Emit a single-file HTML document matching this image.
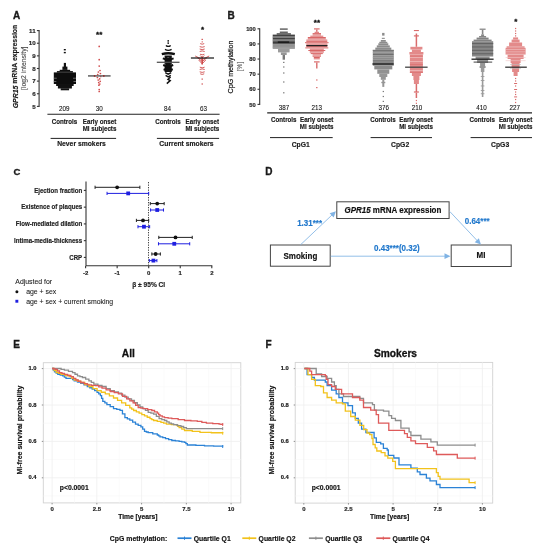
<!DOCTYPE html>
<html><head><meta charset="utf-8"><style>
html,body{margin:0;padding:0;background:#fff;width:550px;height:550px;overflow:hidden}
svg{display:block;filter:blur(0.35px)}
text{font-family:'Liberation Sans',sans-serif}
text[font-weight="bold"]{stroke:currentColor;stroke-width:0.15px}
text[font-weight="normal"]{stroke:currentColor;stroke-width:0.08px}
</style></head><body>
<svg width="550" height="550" viewBox="0 0 550 550">
<rect width="550" height="550" fill="#fff"/>
<text x="0" y="0" font-size="10" font-weight="bold" text-anchor="start" fill="#1a1a1a" color="#1a1a1a" transform="translate(13.00 18.60)" style="stroke-width:0.35px">A</text>
<text x="0" y="0" font-size="6.9" font-weight="bold" text-anchor="middle" fill="#1a1a1a" color="#1a1a1a" transform="translate(14.60 66.50) rotate(-90) scale(1.0 1.15)" style="" dominant-baseline="central"><tspan font-style="italic">GPR15</tspan> mRNA expression</text>
<text x="0" y="0" font-size="6.8" font-weight="normal" text-anchor="middle" fill="#444" color="#444" transform="translate(23.20 68.20) rotate(-90) scale(1.0 1.15)" style="" dominant-baseline="central">[log2 intensity]</text>
<line x1="39.1" y1="30.1" x2="39.1" y2="106.88" stroke="#333" stroke-width="1.1"/>
<line x1="36.9" y1="30.6" x2="39.1" y2="30.6" stroke="#333" stroke-width="1.1"/>
<text x="0" y="0" font-size="6.2" font-weight="bold" text-anchor="end" fill="#222" color="#222" transform="translate(35.60 32.80)" style="">11</text>
<line x1="36.9" y1="43.230000000000004" x2="39.1" y2="43.230000000000004" stroke="#333" stroke-width="1.1"/>
<text x="0" y="0" font-size="6.2" font-weight="bold" text-anchor="end" fill="#222" color="#222" transform="translate(35.60 45.43)" style="">10</text>
<line x1="36.9" y1="55.86" x2="39.1" y2="55.86" stroke="#333" stroke-width="1.1"/>
<text x="0" y="0" font-size="6.2" font-weight="bold" text-anchor="end" fill="#222" color="#222" transform="translate(35.60 58.06)" style="">9</text>
<line x1="36.9" y1="68.49000000000001" x2="39.1" y2="68.49000000000001" stroke="#333" stroke-width="1.1"/>
<text x="0" y="0" font-size="6.2" font-weight="bold" text-anchor="end" fill="#222" color="#222" transform="translate(35.60 70.69)" style="">8</text>
<line x1="36.9" y1="81.12" x2="39.1" y2="81.12" stroke="#333" stroke-width="1.1"/>
<text x="0" y="0" font-size="6.2" font-weight="bold" text-anchor="end" fill="#222" color="#222" transform="translate(35.60 83.32)" style="">7</text>
<line x1="36.9" y1="93.75" x2="39.1" y2="93.75" stroke="#333" stroke-width="1.1"/>
<text x="0" y="0" font-size="6.2" font-weight="bold" text-anchor="end" fill="#222" color="#222" transform="translate(35.60 95.95)" style="">6</text>
<line x1="36.9" y1="106.38" x2="39.1" y2="106.38" stroke="#333" stroke-width="1.1"/>
<text x="0" y="0" font-size="6.2" font-weight="bold" text-anchor="end" fill="#222" color="#222" transform="translate(35.60 108.58)" style="">5</text>
<rect x="63.80" y="62.90" width="2.20" height="4.10" fill="#111"/>
<rect x="62.40" y="66.60" width="5.00" height="3.30" fill="#111"/>
<rect x="59.70" y="69.80" width="10.40" height="1.40" fill="#0d0d0d"/>
<rect x="56.90" y="71.10" width="16.00" height="1.50" fill="#0d0d0d"/>
<rect x="53.80" y="72.40" width="22.20" height="11.60" fill="#0d0d0d"/>
<rect x="56.15" y="83.80" width="17.50" height="2.20" fill="#111"/>
<rect x="57.90" y="85.80" width="14.00" height="2.70" fill="#111"/>
<rect x="60.70" y="88.30" width="8.40" height="2.00" fill="#111"/>
<rect x="53.80" y="77.80" width="3.00" height="0.70" fill="#888"/>
<rect x="73.00" y="77.80" width="3.00" height="0.70" fill="#888"/>
<rect x="53.80" y="81.20" width="2.50" height="0.70" fill="#888"/>
<rect x="73.50" y="81.20" width="2.50" height="0.70" fill="#888"/>
<rect x="63.80" y="49.00" width="2.00" height="1.40" fill="#111"/>
<rect x="63.80" y="51.90" width="2.00" height="1.40" fill="#111"/>
<text x="0" y="0" font-size="8" font-weight="bold" text-anchor="middle" fill="#111" color="#111" transform="translate(99.20 37.20)" style="stroke-width:0.3px">**</text>
<circle cx="99.20" cy="46.40" r="0.85" fill="#d0494a"/>
<circle cx="99.20" cy="59.70" r="0.85" fill="#d0494a"/>
<circle cx="99.20" cy="66.10" r="0.85" fill="#d0494a"/>
<circle cx="100.00" cy="70.50" r="0.85" fill="#d0494a"/>
<circle cx="98.40" cy="72.00" r="0.85" fill="#d0494a"/>
<circle cx="100.40" cy="73.50" r="0.85" fill="#d0494a"/>
<circle cx="97.70" cy="74.50" r="0.85" fill="#d0494a"/>
<circle cx="100.70" cy="76.50" r="0.85" fill="#d0494a"/>
<circle cx="97.40" cy="77.50" r="0.85" fill="#d0494a"/>
<circle cx="99.70" cy="78.80" r="0.85" fill="#d0494a"/>
<circle cx="98.20" cy="80.00" r="0.85" fill="#d0494a"/>
<circle cx="100.20" cy="81.30" r="0.85" fill="#d0494a"/>
<circle cx="98.70" cy="82.60" r="0.85" fill="#d0494a"/>
<circle cx="99.80" cy="84.00" r="0.85" fill="#d0494a"/>
<circle cx="98.90" cy="85.20" r="0.85" fill="#d0494a"/>
<circle cx="99.20" cy="89.60" r="0.85" fill="#d0494a"/>
<circle cx="99.20" cy="91.50" r="0.85" fill="#d0494a"/>
<line x1="88.0" y1="75.9" x2="110.6" y2="75.9" stroke="#6b6b6b" stroke-width="1.6"/>
<circle cx="94.60" cy="75.90" r="0.9" fill="#9a2a2a"/>
<circle cx="103.80" cy="75.90" r="0.9" fill="#9a2a2a"/>
<rect x="167.55" y="40.00" width="1.30" height="1.20" fill="#111"/>
<rect x="167.55" y="41.40" width="1.30" height="1.20" fill="#111"/>
<rect x="167.55" y="42.80" width="1.30" height="1.20" fill="#111"/>
<path d="M165.90,45.40 Q168.30,47.40 170.70,45.40" fill="none" stroke="#111" stroke-width="1.3"/>
<path d="M165.00,49.40 Q168.30,51.40 171.60,49.40" fill="none" stroke="#111" stroke-width="1.4"/>
<path d="M161.80,54.20 Q168.30,52.40 174.80,54.20" fill="none" stroke="#111" stroke-width="2.4"/>
<rect x="164.60" y="55.50" width="7.20" height="16.50" fill="#111"/>
<path d="M162.80,58.40 L168.20,60.20 L173.60,58.40" fill="none" stroke="#111" stroke-width="2.0"/>
<path d="M163.20,65.00 L168.20,66.80 L173.20,65.00" fill="none" stroke="#111" stroke-width="2.2"/>
<path d="M163.60,69.20 L168.20,70.80 L172.80,69.20" fill="none" stroke="#111" stroke-width="2.0"/>
<rect x="167.20" y="57.20" width="2.00" height="0.60" fill="#777"/>
<rect x="164.60" y="63.80" width="1.20" height="0.60" fill="#888"/>
<rect x="170.60" y="63.80" width="1.20" height="0.60" fill="#888"/>
<path d="M165.20,72.60 L168.20,74.10 L171.20,72.60" fill="none" stroke="#111" stroke-width="1.6"/>
<path d="M165.60,75.40 L168.20,76.80 L170.80,75.40" fill="none" stroke="#111" stroke-width="1.5"/>
<path d="M170.6,77.0 L168.0,79.3 L170.2,80.6 L166.8,83.6" fill="none" stroke="#111" stroke-width="1.5"/>
<line x1="156.8" y1="62.3" x2="179.5" y2="62.3" stroke="#555" stroke-width="1.3"/>
<text x="0" y="0" font-size="8" font-weight="bold" text-anchor="middle" fill="#111" color="#111" transform="translate(202.50 32.20)" style="stroke-width:0.3px">*</text>
<rect x="201.55" y="38.80" width="1.30" height="1.20" fill="#cf4b4b"/>
<rect x="201.55" y="78.50" width="1.30" height="1.20" fill="#cf4b4b"/>
<rect x="201.55" y="83.40" width="1.30" height="1.20" fill="#cf4b4b"/>
<rect x="201.70" y="41.30" width="1.00" height="1.20" fill="#cf4b4b"/>
<path d="M200.20,43.60 Q202.20,44.80 204.20,43.60" fill="none" stroke="#cf4b4b" stroke-width="0.9"/>
<path d="M199.70,46.60 Q202.20,47.80 204.70,46.60" fill="none" stroke="#cf4b4b" stroke-width="0.9"/>
<path d="M199.70,49.00 Q202.20,50.20 204.70,49.00" fill="none" stroke="#cf4b4b" stroke-width="0.9"/>
<path d="M199.70,51.50 Q202.20,50.30 204.70,51.50" fill="none" stroke="#cf4b4b" stroke-width="0.9"/>
<path d="M200.00,54.20 Q202.20,55.40 204.40,54.20" fill="none" stroke="#cf4b4b" stroke-width="0.9"/>
<path d="M199.80,67.20 Q202.20,68.40 204.60,67.20" fill="none" stroke="#cf4b4b" stroke-width="0.9"/>
<path d="M199.70,69.50 Q202.20,68.30 204.70,69.50" fill="none" stroke="#cf4b4b" stroke-width="0.9"/>
<path d="M199.70,71.80 Q202.20,73.00 204.70,71.80" fill="none" stroke="#cf4b4b" stroke-width="0.9"/>
<path d="M200.20,73.80 Q202.20,75.00 204.20,73.80" fill="none" stroke="#cf4b4b" stroke-width="0.9"/>
<path d="M195.20,56.0 L202.20,59.5 L209.20,56.0 M197.20,57.5 L202.20,61.5 L207.20,57.5 M198.70,60.0 L202.20,63.8 L205.70,60.0 M200.20,55.5 L202.20,57.5 L204.20,55.5" fill="none" stroke="#cf4b4b" stroke-width="0.9"/>
<rect x="201.40" y="56.50" width="1.60" height="8.00" fill="#cf4b4b"/>
<line x1="190.9" y1="58.0" x2="214.0" y2="58.0" stroke="#222" stroke-width="1.3"/>
<text x="0" y="0" font-size="6.3" font-weight="normal" text-anchor="middle" fill="#111" color="#111" transform="translate(64.20 111.40) scale(1.0 1.15)" style="">209</text>
<text x="0" y="0" font-size="6.3" font-weight="normal" text-anchor="middle" fill="#111" color="#111" transform="translate(99.20 111.40) scale(1.0 1.15)" style="">30</text>
<text x="0" y="0" font-size="6.3" font-weight="normal" text-anchor="middle" fill="#111" color="#111" transform="translate(167.60 111.40) scale(1.0 1.15)" style="">84</text>
<text x="0" y="0" font-size="6.3" font-weight="normal" text-anchor="middle" fill="#111" color="#111" transform="translate(203.60 111.40) scale(1.0 1.15)" style="">63</text>
<line x1="47.4" y1="114.3" x2="219.6" y2="114.3" stroke="#222" stroke-width="1.1"/>
<text x="0" y="0" font-size="6.2" font-weight="bold" text-anchor="middle" fill="#1a1a1a" color="#1a1a1a" transform="translate(64.50 123.90) scale(1.0 1.15)" style="">Controls</text>
<text x="0" y="0" font-size="6.2" font-weight="bold" text-anchor="middle" fill="#1a1a1a" color="#1a1a1a" transform="translate(167.90 123.90) scale(1.0 1.15)" style="">Controls</text>
<text x="0" y="0" font-size="6.2" font-weight="bold" text-anchor="middle" fill="#1a1a1a" color="#1a1a1a" transform="translate(99.50 123.90) scale(1.0 1.15)" style="">Early onset</text>
<text x="0" y="0" font-size="6.2" font-weight="bold" text-anchor="middle" fill="#1a1a1a" color="#1a1a1a" transform="translate(99.50 130.60) scale(1.0 1.15)" style="">MI subjects</text>
<text x="0" y="0" font-size="6.2" font-weight="bold" text-anchor="middle" fill="#1a1a1a" color="#1a1a1a" transform="translate(202.30 123.90) scale(1.0 1.15)" style="">Early onset</text>
<text x="0" y="0" font-size="6.2" font-weight="bold" text-anchor="middle" fill="#1a1a1a" color="#1a1a1a" transform="translate(202.30 130.60) scale(1.0 1.15)" style="">MI subjects</text>
<line x1="50.6" y1="138.4" x2="116.1" y2="138.4" stroke="#222" stroke-width="1.0"/>
<line x1="156.9" y1="138.4" x2="219.1" y2="138.4" stroke="#222" stroke-width="1.0"/>
<text x="0" y="0" font-size="6.8" font-weight="bold" text-anchor="middle" fill="#1a1a1a" color="#1a1a1a" transform="translate(81.50 146.10) scale(1.0 1.15)" style="">Never smokers</text>
<text x="0" y="0" font-size="6.8" font-weight="bold" text-anchor="middle" fill="#1a1a1a" color="#1a1a1a" transform="translate(186.50 146.10) scale(1.0 1.15)" style="">Current smokers</text>
<text x="0" y="0" font-size="10" font-weight="bold" text-anchor="start" fill="#1a1a1a" color="#1a1a1a" transform="translate(227.40 18.60)" style="stroke-width:0.35px">B</text>
<text x="0" y="0" font-size="7.1" font-weight="normal" text-anchor="middle" fill="#111" color="#111" transform="translate(230.80 67.00) rotate(-90) scale(1.0 1.05)" style="stroke-width:0.2px" dominant-baseline="central">CpG methylation</text>
<text x="0" y="0" font-size="6.5" font-weight="normal" text-anchor="middle" fill="#555" color="#555" transform="translate(239.60 66.50) rotate(-90) scale(1.0 1.15)" style="" dominant-baseline="central">[%]</text>
<line x1="259.7" y1="28.3" x2="259.7" y2="104.89999999999999" stroke="#333" stroke-width="1.1"/>
<line x1="257.5" y1="28.8" x2="259.7" y2="28.8" stroke="#333" stroke-width="1.1"/>
<text x="0" y="0" font-size="5.8" font-weight="bold" text-anchor="end" fill="#222" color="#222" transform="translate(255.80 30.90)" style="">100</text>
<line x1="257.5" y1="43.92" x2="259.7" y2="43.92" stroke="#333" stroke-width="1.1"/>
<text x="0" y="0" font-size="5.8" font-weight="bold" text-anchor="end" fill="#222" color="#222" transform="translate(255.80 46.02)" style="">90</text>
<line x1="257.5" y1="59.04" x2="259.7" y2="59.04" stroke="#333" stroke-width="1.1"/>
<text x="0" y="0" font-size="5.8" font-weight="bold" text-anchor="end" fill="#222" color="#222" transform="translate(255.80 61.14)" style="">80</text>
<line x1="257.5" y1="74.16" x2="259.7" y2="74.16" stroke="#333" stroke-width="1.1"/>
<text x="0" y="0" font-size="5.8" font-weight="bold" text-anchor="end" fill="#222" color="#222" transform="translate(255.80 76.26)" style="">70</text>
<line x1="257.5" y1="89.28" x2="259.7" y2="89.28" stroke="#333" stroke-width="1.1"/>
<text x="0" y="0" font-size="5.8" font-weight="bold" text-anchor="end" fill="#222" color="#222" transform="translate(255.80 91.38)" style="">60</text>
<line x1="257.5" y1="104.39999999999999" x2="259.7" y2="104.39999999999999" stroke="#333" stroke-width="1.1"/>
<text x="0" y="0" font-size="5.8" font-weight="bold" text-anchor="end" fill="#222" color="#222" transform="translate(255.80 106.50)" style="">50</text>
<rect x="279.90" y="28.40" width="7.80" height="1.40" fill="#5a5a5a"/>
<rect x="279.80" y="31.50" width="8.00" height="1.70" fill="#646464"/>
<rect x="276.70" y="33.10" width="14.20" height="1.70" fill="#646464"/>
<rect x="272.70" y="34.60" width="22.20" height="1.90" fill="#414141"/>
<rect x="272.70" y="36.50" width="22.20" height="1.50" fill="#555555"/>
<rect x="272.70" y="38.00" width="22.20" height="1.60" fill="#414141"/>
<rect x="272.70" y="39.60" width="22.20" height="1.60" fill="#555555"/>
<rect x="272.70" y="41.20" width="22.20" height="1.80" fill="#3c3c3c"/>
<rect x="272.70" y="43.00" width="22.20" height="1.60" fill="#5a5a5a"/>
<rect x="272.70" y="44.60" width="22.20" height="4.20" fill="#8c8c8c"/>
<rect x="278.00" y="48.80" width="11.60" height="3.60" fill="#9b9b9b"/>
<rect x="280.90" y="52.40" width="5.80" height="2.60" fill="#969696"/>
<rect x="282.60" y="55.00" width="2.40" height="4.70" fill="#787878"/>
<rect x="272.70" y="37.00" width="22.20" height="0.50" fill="#aaaaaa"/>
<rect x="272.70" y="40.20" width="22.20" height="0.50" fill="#aaaaaa"/>
<rect x="272.70" y="45.80" width="22.20" height="0.50" fill="#aaaaaa"/>
<rect x="272.70" y="47.40" width="22.20" height="0.50" fill="#aaaaaa"/>
<line x1="277.8" y1="42.1" x2="289.1" y2="42.1" stroke="#111" stroke-width="1.3"/>
<rect x="283.20" y="61.80" width="1.20" height="1.20" fill="#646464"/>
<rect x="283.20" y="66.40" width="1.20" height="1.20" fill="#646464"/>
<rect x="283.20" y="72.40" width="1.20" height="1.20" fill="#646464"/>
<rect x="283.20" y="81.40" width="1.20" height="1.20" fill="#646464"/>
<rect x="283.20" y="92.20" width="1.20" height="1.20" fill="#646464"/>
<rect x="314.00" y="28.30" width="5.60" height="1.20" fill="#d96c6c"/>
<rect x="316.10" y="29.50" width="1.40" height="2.30" fill="#d96c6c"/>
<rect x="314.00" y="61.30" width="5.60" height="1.20" fill="#d96c6c"/>
<rect x="316.10" y="62.50" width="1.40" height="6.00" fill="#d96c6c"/>
<rect x="314.60" y="31.80" width="4.40" height="1.00" fill="#d96666"/>
<rect x="312.60" y="33.10" width="8.40" height="1.00" fill="#d96666"/>
<rect x="312.60" y="34.40" width="8.40" height="1.00" fill="#d96666"/>
<rect x="310.30" y="35.70" width="13.00" height="1.00" fill="#d96666"/>
<rect x="307.80" y="37.00" width="18.00" height="1.00" fill="#d96666"/>
<rect x="307.80" y="38.30" width="18.00" height="1.00" fill="#d96666"/>
<rect x="306.30" y="39.60" width="21.00" height="1.00" fill="#d96666"/>
<rect x="306.30" y="40.90" width="21.00" height="1.00" fill="#d96666"/>
<rect x="305.00" y="42.20" width="23.60" height="1.00" fill="#d96666"/>
<rect x="306.30" y="43.50" width="21.00" height="1.00" fill="#d96666"/>
<rect x="306.00" y="44.80" width="21.60" height="1.00" fill="#d96666"/>
<rect x="306.30" y="46.10" width="21.00" height="1.00" fill="#d96666"/>
<rect x="305.30" y="47.40" width="23.00" height="1.00" fill="#d96666"/>
<rect x="309.80" y="48.70" width="14.00" height="1.00" fill="#d96666"/>
<rect x="308.30" y="50.00" width="17.00" height="1.00" fill="#d96666"/>
<rect x="309.80" y="51.30" width="14.00" height="1.00" fill="#d96666"/>
<rect x="309.80" y="52.60" width="14.00" height="0.50" fill="#d96666"/>
<rect x="310.80" y="53.10" width="12.00" height="1.00" fill="#d96666"/>
<rect x="312.60" y="54.40" width="8.40" height="1.00" fill="#d96666"/>
<rect x="312.60" y="55.70" width="8.40" height="1.00" fill="#d96666"/>
<rect x="313.80" y="57.00" width="6.00" height="1.00" fill="#d96666"/>
<rect x="313.80" y="58.30" width="6.00" height="1.00" fill="#d96666"/>
<line x1="306.4" y1="45.6" x2="327.4" y2="45.6" stroke="#222" stroke-width="1.3"/>
<rect x="316.10" y="79.40" width="1.40" height="1.20" fill="#d96c6c"/>
<rect x="316.10" y="87.00" width="1.40" height="1.20" fill="#d96c6c"/>
<text x="0" y="0" font-size="8" font-weight="bold" text-anchor="middle" fill="#111" color="#111" transform="translate(316.90 25.30)" style="stroke-width:0.3px">**</text>
<rect x="382.10" y="32.90" width="2.40" height="2.70" fill="#8c8c8c"/>
<rect x="381.80" y="37.80" width="3.00" height="1.10" fill="#8c8c8c"/>
<rect x="380.80" y="40.00" width="5.00" height="1.80" fill="#8c8c8c"/>
<rect x="379.30" y="41.80" width="8.00" height="1.50" fill="#8c8c8c"/>
<rect x="378.30" y="43.30" width="10.00" height="2.10" fill="#8c8c8c"/>
<rect x="376.80" y="45.40" width="13.00" height="2.20" fill="#8c8c8c"/>
<rect x="375.30" y="47.60" width="16.00" height="2.20" fill="#8c8c8c"/>
<rect x="372.70" y="49.80" width="21.20" height="1.10" fill="#646464"/>
<rect x="372.80" y="50.90" width="21.00" height="3.10" fill="#8c8c8c"/>
<rect x="372.80" y="54.00" width="21.00" height="1.20" fill="#6e6e6e"/>
<rect x="372.80" y="55.20" width="21.00" height="4.30" fill="#8c8c8c"/>
<rect x="372.80" y="59.50" width="21.00" height="1.40" fill="#6e6e6e"/>
<rect x="372.80" y="60.90" width="21.00" height="2.10" fill="#878787"/>
<rect x="372.80" y="63.00" width="21.00" height="2.60" fill="#737373"/>
<rect x="374.30" y="65.60" width="18.00" height="3.80" fill="#8c8c8c"/>
<rect x="377.30" y="69.40" width="12.00" height="4.40" fill="#919191"/>
<rect x="379.30" y="73.80" width="8.00" height="3.20" fill="#969696"/>
<rect x="380.80" y="77.00" width="5.00" height="2.80" fill="#969696"/>
<rect x="382.30" y="79.80" width="2.00" height="7.10" fill="#969696"/>
<rect x="381.30" y="81.80" width="4.00" height="1.40" fill="#969696"/>
<rect x="372.80" y="52.20" width="21.00" height="0.50" fill="#afafaf"/>
<rect x="372.80" y="57.00" width="21.00" height="0.50" fill="#afafaf"/>
<line x1="372.4" y1="64.0" x2="393.6" y2="64.0" stroke="#222" stroke-width="1.3"/>
<rect x="382.70" y="90.90" width="1.20" height="1.20" fill="#6e6e6e"/>
<rect x="382.70" y="95.90" width="1.20" height="1.20" fill="#6e6e6e"/>
<rect x="382.70" y="100.80" width="1.20" height="1.20" fill="#6e6e6e"/>
<rect x="413.90" y="30.00" width="5.00" height="1.10" fill="#d96c6c"/>
<rect x="413.90" y="35.30" width="5.00" height="1.20" fill="#d96c6c"/>
<rect x="415.65" y="33.50" width="1.50" height="13.30" fill="#d96c6c"/>
<rect x="410.40" y="46.80" width="12.00" height="2.70" fill="#e38a8a"/>
<rect x="411.90" y="49.50" width="9.00" height="2.50" fill="#e38a8a"/>
<rect x="409.40" y="52.00" width="14.00" height="2.50" fill="#e38a8a"/>
<rect x="409.90" y="54.50" width="13.00" height="12.50" fill="#e38a8a"/>
<rect x="409.90" y="67.00" width="13.00" height="6.00" fill="#e38a8a"/>
<rect x="411.90" y="73.00" width="9.00" height="3.00" fill="#e38a8a"/>
<rect x="413.40" y="76.00" width="6.00" height="4.00" fill="#e38a8a"/>
<rect x="413.90" y="80.00" width="5.00" height="4.00" fill="#e38a8a"/>
<rect x="415.65" y="84.00" width="1.50" height="8.00" fill="#d96c6c"/>
<rect x="413.90" y="91.40" width="5.00" height="1.20" fill="#d96c6c"/>
<rect x="415.65" y="92.60" width="1.50" height="5.40" fill="#d96c6c"/>
<rect x="409.90" y="57.00" width="13.00" height="0.60" fill="#f3caca"/>
<rect x="409.90" y="61.00" width="13.00" height="0.60" fill="#f3caca"/>
<rect x="409.90" y="70.20" width="13.00" height="0.60" fill="#f3caca"/>
<rect x="409.90" y="55.80" width="13.00" height="0.60" fill="#d96c6c"/>
<rect x="409.90" y="64.00" width="13.00" height="0.60" fill="#d96c6c"/>
<rect x="409.90" y="72.00" width="13.00" height="0.60" fill="#d96c6c"/>
<line x1="405.1" y1="67.2" x2="427.6" y2="67.2" stroke="#444" stroke-width="1.3"/>
<rect x="415.80" y="99.90" width="1.20" height="1.20" fill="#d96c6c"/>
<rect x="415.80" y="102.70" width="1.20" height="1.20" fill="#d96c6c"/>
<rect x="479.60" y="28.60" width="6.00" height="1.20" fill="#7d7d7d"/>
<rect x="481.80" y="29.80" width="1.60" height="4.60" fill="#878787"/>
<rect x="481.10" y="34.40" width="3.00" height="1.60" fill="#878787"/>
<rect x="479.10" y="36.00" width="7.00" height="1.60" fill="#878787"/>
<rect x="476.60" y="37.60" width="12.00" height="2.00" fill="#828282"/>
<rect x="473.60" y="39.60" width="18.00" height="1.60" fill="#828282"/>
<rect x="472.00" y="41.20" width="21.20" height="15.30" fill="#878787"/>
<rect x="475.60" y="56.50" width="14.00" height="2.50" fill="#8c8c8c"/>
<rect x="477.10" y="59.00" width="11.00" height="4.00" fill="#919191"/>
<rect x="480.10" y="63.00" width="5.00" height="3.00" fill="#969696"/>
<rect x="479.60" y="66.00" width="6.00" height="2.00" fill="#969696"/>
<rect x="480.85" y="68.00" width="3.50" height="4.00" fill="#9b9b9b"/>
<rect x="481.80" y="72.00" width="1.60" height="25.00" fill="#9b9b9b"/>
<rect x="472.00" y="43.00" width="21.20" height="1.10" fill="#646464"/>
<rect x="472.00" y="46.40" width="21.20" height="1.10" fill="#646464"/>
<rect x="472.00" y="49.80" width="21.20" height="1.10" fill="#646464"/>
<rect x="472.00" y="53.20" width="21.20" height="1.10" fill="#646464"/>
<line x1="471.5" y1="59.2" x2="493.6" y2="59.2" stroke="#222" stroke-width="1.3"/>
<line x1="473.6" y1="62.1" x2="492.2" y2="62.1" stroke="#444" stroke-width="1.0"/>
<rect x="480.80" y="76.00" width="3.60" height="0.90" fill="#9b9b9b"/>
<rect x="480.80" y="80.00" width="3.60" height="0.90" fill="#9b9b9b"/>
<rect x="480.80" y="85.50" width="3.60" height="0.90" fill="#9b9b9b"/>
<rect x="480.80" y="90.00" width="3.60" height="0.90" fill="#9b9b9b"/>
<rect x="480.80" y="93.30" width="3.60" height="0.90" fill="#9b9b9b"/>
<rect x="515.00" y="27.90" width="1.20" height="1.20" fill="#d96c6c"/>
<rect x="515.00" y="30.40" width="1.20" height="1.20" fill="#d96c6c"/>
<rect x="515.00" y="32.90" width="1.20" height="1.20" fill="#d96c6c"/>
<rect x="515.00" y="35.30" width="1.20" height="1.20" fill="#d96c6c"/>
<rect x="513.10" y="37.40" width="5.00" height="2.20" fill="#e38a8a"/>
<rect x="511.60" y="39.60" width="8.00" height="2.90" fill="#e38a8a"/>
<rect x="509.10" y="42.50" width="13.00" height="3.80" fill="#e38a8a"/>
<rect x="506.60" y="46.30" width="18.00" height="1.50" fill="#e38a8a"/>
<rect x="505.60" y="47.80" width="20.00" height="6.70" fill="#e38a8a"/>
<rect x="507.60" y="54.50" width="16.00" height="4.50" fill="#e38a8a"/>
<rect x="510.60" y="59.00" width="10.00" height="4.00" fill="#e38a8a"/>
<rect x="511.60" y="63.00" width="8.00" height="4.00" fill="#e38a8a"/>
<rect x="512.10" y="67.00" width="7.00" height="5.00" fill="#e38a8a"/>
<rect x="513.60" y="72.00" width="4.00" height="4.00" fill="#e38a8a"/>
<rect x="505.60" y="49.20" width="20.00" height="0.60" fill="#f0c4c4"/>
<rect x="505.60" y="51.60" width="20.00" height="0.60" fill="#f0c4c4"/>
<rect x="505.60" y="53.80" width="20.00" height="0.60" fill="#f0c4c4"/>
<rect x="505.60" y="57.00" width="20.00" height="0.60" fill="#f0c4c4"/>
<rect x="505.60" y="60.50" width="20.00" height="0.60" fill="#f0c4c4"/>
<line x1="510" y1="64.5" x2="521" y2="64.5" stroke="#bbb" stroke-width="0.6"/>
<line x1="510" y1="68.6" x2="521" y2="68.6" stroke="#bbb" stroke-width="0.6"/>
<line x1="505.2" y1="67.2" x2="526.8" y2="67.2" stroke="#333" stroke-width="1.3"/>
<rect x="515.00" y="77.90" width="1.20" height="1.20" fill="#d96c6c"/>
<rect x="515.00" y="80.40" width="1.20" height="1.20" fill="#d96c6c"/>
<rect x="515.00" y="85.40" width="1.20" height="1.20" fill="#d96c6c"/>
<rect x="515.00" y="91.40" width="1.20" height="1.20" fill="#d96c6c"/>
<rect x="515.00" y="93.90" width="1.20" height="1.20" fill="#d96c6c"/>
<rect x="515.00" y="98.90" width="1.20" height="1.20" fill="#d96c6c"/>
<rect x="515.00" y="101.90" width="1.20" height="1.20" fill="#d96c6c"/>
<rect x="514.10" y="83.00" width="3.00" height="1.00" fill="#d96c6c"/>
<rect x="514.10" y="89.00" width="3.00" height="1.00" fill="#d96c6c"/>
<rect x="514.10" y="96.40" width="3.00" height="1.00" fill="#d96c6c"/>
<text x="0" y="0" font-size="8" font-weight="bold" text-anchor="middle" fill="#111" color="#111" transform="translate(515.80 24.30)" style="stroke-width:0.3px">*</text>
<text x="0" y="0" font-size="6.3" font-weight="normal" text-anchor="middle" fill="#111" color="#111" transform="translate(283.90 110.30) scale(1.0 1.15)" style="">387</text>
<text x="0" y="0" font-size="6.3" font-weight="normal" text-anchor="middle" fill="#111" color="#111" transform="translate(316.80 110.30) scale(1.0 1.15)" style="">213</text>
<text x="0" y="0" font-size="6.3" font-weight="normal" text-anchor="middle" fill="#111" color="#111" transform="translate(383.70 110.30) scale(1.0 1.15)" style="">376</text>
<text x="0" y="0" font-size="6.3" font-weight="normal" text-anchor="middle" fill="#111" color="#111" transform="translate(417.00 110.30) scale(1.0 1.15)" style="">210</text>
<text x="0" y="0" font-size="6.3" font-weight="normal" text-anchor="middle" fill="#111" color="#111" transform="translate(481.60 110.30) scale(1.0 1.15)" style="">410</text>
<text x="0" y="0" font-size="6.3" font-weight="normal" text-anchor="middle" fill="#111" color="#111" transform="translate(514.80 110.30) scale(1.0 1.15)" style="">227</text>
<line x1="267.2" y1="112.9" x2="532.0" y2="112.9" stroke="#222" stroke-width="1.1"/>
<text x="0" y="0" font-size="6.2" font-weight="bold" text-anchor="middle" fill="#1a1a1a" color="#1a1a1a" transform="translate(283.80 122.20) scale(1.0 1.15)" style="">Controls</text>
<text x="0" y="0" font-size="6.2" font-weight="bold" text-anchor="middle" fill="#1a1a1a" color="#1a1a1a" transform="translate(382.90 122.20) scale(1.0 1.15)" style="">Controls</text>
<text x="0" y="0" font-size="6.2" font-weight="bold" text-anchor="middle" fill="#1a1a1a" color="#1a1a1a" transform="translate(482.30 122.20) scale(1.0 1.15)" style="">Controls</text>
<text x="0" y="0" font-size="6.2" font-weight="bold" text-anchor="middle" fill="#1a1a1a" color="#1a1a1a" transform="translate(316.70 122.20) scale(1.0 1.15)" style="">Early onset</text>
<text x="0" y="0" font-size="6.2" font-weight="bold" text-anchor="middle" fill="#1a1a1a" color="#1a1a1a" transform="translate(316.70 128.70) scale(1.0 1.15)" style="">MI subjects</text>
<text x="0" y="0" font-size="6.2" font-weight="bold" text-anchor="middle" fill="#1a1a1a" color="#1a1a1a" transform="translate(416.00 122.20) scale(1.0 1.15)" style="">Early onset</text>
<text x="0" y="0" font-size="6.2" font-weight="bold" text-anchor="middle" fill="#1a1a1a" color="#1a1a1a" transform="translate(416.00 128.70) scale(1.0 1.15)" style="">MI subjects</text>
<text x="0" y="0" font-size="6.2" font-weight="bold" text-anchor="middle" fill="#1a1a1a" color="#1a1a1a" transform="translate(515.60 122.20) scale(1.0 1.15)" style="">Early onset</text>
<text x="0" y="0" font-size="6.2" font-weight="bold" text-anchor="middle" fill="#1a1a1a" color="#1a1a1a" transform="translate(515.60 128.70) scale(1.0 1.15)" style="">MI subjects</text>
<line x1="270.0" y1="137.6" x2="332.7" y2="137.6" stroke="#222" stroke-width="1.0"/>
<text x="0" y="0" font-size="6.8" font-weight="bold" text-anchor="middle" fill="#1a1a1a" color="#1a1a1a" transform="translate(300.70 146.60) scale(1.0 1.15)" style="">CpG1</text>
<line x1="370.6" y1="137.6" x2="432.0" y2="137.6" stroke="#222" stroke-width="1.0"/>
<text x="0" y="0" font-size="6.8" font-weight="bold" text-anchor="middle" fill="#1a1a1a" color="#1a1a1a" transform="translate(400.10 146.60) scale(1.0 1.15)" style="">CpG2</text>
<line x1="470.6" y1="137.6" x2="532.0" y2="137.6" stroke="#222" stroke-width="1.0"/>
<text x="0" y="0" font-size="6.8" font-weight="bold" text-anchor="middle" fill="#1a1a1a" color="#1a1a1a" transform="translate(500.10 146.60) scale(1.0 1.15)" style="">CpG3</text>
<text x="0" y="0" font-size="9.5" font-weight="bold" text-anchor="start" fill="#1a1a1a" color="#1a1a1a" transform="translate(13.40 175.20)" style="stroke-width:0.35px">C</text>
<line x1="86.0" y1="181.6" x2="86.0" y2="265.8" stroke="#333" stroke-width="1.1"/>
<line x1="86.0" y1="265.8" x2="212.3" y2="265.8" stroke="#333" stroke-width="1.1"/>
<line x1="85.6" y1="265.8" x2="85.6" y2="268.2" stroke="#333" stroke-width="1.1"/>
<text x="0" y="0" font-size="6.0" font-weight="bold" text-anchor="middle" fill="#222" color="#222" transform="translate(85.60 275.10)" style="">-2</text>
<line x1="117.14999999999999" y1="265.8" x2="117.14999999999999" y2="268.2" stroke="#333" stroke-width="1.1"/>
<text x="0" y="0" font-size="6.0" font-weight="bold" text-anchor="middle" fill="#222" color="#222" transform="translate(117.15 275.10)" style="">-1</text>
<line x1="148.7" y1="265.8" x2="148.7" y2="268.2" stroke="#333" stroke-width="1.1"/>
<text x="0" y="0" font-size="6.0" font-weight="bold" text-anchor="middle" fill="#222" color="#222" transform="translate(148.70 275.10)" style="">0</text>
<line x1="180.25" y1="265.8" x2="180.25" y2="268.2" stroke="#333" stroke-width="1.1"/>
<text x="0" y="0" font-size="6.0" font-weight="bold" text-anchor="middle" fill="#222" color="#222" transform="translate(180.25 275.10)" style="">1</text>
<line x1="211.79999999999998" y1="265.8" x2="211.79999999999998" y2="268.2" stroke="#333" stroke-width="1.1"/>
<text x="0" y="0" font-size="6.0" font-weight="bold" text-anchor="middle" fill="#222" color="#222" transform="translate(211.80 275.10)" style="">2</text>
<line x1="83.8" y1="190.4" x2="86.0" y2="190.4" stroke="#333" stroke-width="1.1"/>
<text x="0" y="0" font-size="6.15" font-weight="bold" text-anchor="end" fill="#222" color="#222" transform="translate(82.20 192.60) scale(1.0 1.15)" style="">Ejection fraction</text>
<line x1="83.8" y1="207.15" x2="86.0" y2="207.15" stroke="#333" stroke-width="1.1"/>
<text x="0" y="0" font-size="6.15" font-weight="bold" text-anchor="end" fill="#222" color="#222" transform="translate(82.20 209.35) scale(1.0 1.15)" style="">Existence of plaques</text>
<line x1="83.8" y1="223.9" x2="86.0" y2="223.9" stroke="#333" stroke-width="1.1"/>
<text x="0" y="0" font-size="6.15" font-weight="bold" text-anchor="end" fill="#222" color="#222" transform="translate(82.20 226.10) scale(1.0 1.15)" style="">Flow-mediated dilation</text>
<line x1="83.8" y1="240.65" x2="86.0" y2="240.65" stroke="#333" stroke-width="1.1"/>
<text x="0" y="0" font-size="6.15" font-weight="bold" text-anchor="end" fill="#222" color="#222" transform="translate(82.20 242.85) scale(1.0 1.15)" style="">Intima-media-thickness</text>
<line x1="83.8" y1="257.4" x2="86.0" y2="257.4" stroke="#333" stroke-width="1.1"/>
<text x="0" y="0" font-size="6.15" font-weight="bold" text-anchor="end" fill="#222" color="#222" transform="translate(82.20 259.60) scale(1.0 1.15)" style="">CRP</text>
<line x1="148.5" y1="182" x2="148.5" y2="265.5" stroke="#444" stroke-width="1" stroke-dasharray="1.3,1.2"/>
<line x1="95.065" y1="187.3" x2="139.86599999999999" y2="187.3" stroke="#222" stroke-width="1.0"/>
<line x1="95.065" y1="185.70000000000002" x2="95.065" y2="188.9" stroke="#222" stroke-width="1.0"/>
<line x1="139.86599999999999" y1="185.70000000000002" x2="139.86599999999999" y2="188.9" stroke="#222" stroke-width="1.0"/>
<circle cx="117.15" cy="187.30" r="1.9" fill="#111"/>
<line x1="107.05399999999999" y1="193.4" x2="148.7" y2="193.4" stroke="#1f1fe0" stroke-width="1.0"/>
<line x1="107.05399999999999" y1="191.8" x2="107.05399999999999" y2="195.0" stroke="#1f1fe0" stroke-width="1.0"/>
<line x1="148.7" y1="191.8" x2="148.7" y2="195.0" stroke="#1f1fe0" stroke-width="1.0"/>
<rect x="126.29" y="191.50" width="3.80" height="3.80" fill="#1f1fe0"/>
<line x1="150.27749999999997" y1="203.6" x2="164.15949999999998" y2="203.6" stroke="#222" stroke-width="1.0"/>
<line x1="150.27749999999997" y1="202.0" x2="150.27749999999997" y2="205.2" stroke="#222" stroke-width="1.0"/>
<line x1="164.15949999999998" y1="202.0" x2="164.15949999999998" y2="205.2" stroke="#222" stroke-width="1.0"/>
<circle cx="157.22" cy="203.60" r="1.9" fill="#111"/>
<line x1="150.593" y1="210.0" x2="163.52849999999998" y2="210.0" stroke="#1f1fe0" stroke-width="1.0"/>
<line x1="150.593" y1="208.4" x2="150.593" y2="211.6" stroke="#1f1fe0" stroke-width="1.0"/>
<line x1="163.52849999999998" y1="208.4" x2="163.52849999999998" y2="211.6" stroke="#1f1fe0" stroke-width="1.0"/>
<rect x="155.32" y="208.10" width="3.80" height="3.80" fill="#1f1fe0"/>
<line x1="136.3955" y1="220.4" x2="148.7" y2="220.4" stroke="#222" stroke-width="1.0"/>
<line x1="136.3955" y1="218.8" x2="136.3955" y2="222.0" stroke="#222" stroke-width="1.0"/>
<line x1="148.7" y1="218.8" x2="148.7" y2="222.0" stroke="#222" stroke-width="1.0"/>
<circle cx="143.02" cy="220.40" r="1.9" fill="#111"/>
<line x1="137.97299999999998" y1="226.7" x2="149.64649999999997" y2="226.7" stroke="#1f1fe0" stroke-width="1.0"/>
<line x1="137.97299999999998" y1="225.1" x2="137.97299999999998" y2="228.29999999999998" stroke="#1f1fe0" stroke-width="1.0"/>
<line x1="149.64649999999997" y1="225.1" x2="149.64649999999997" y2="228.29999999999998" stroke="#1f1fe0" stroke-width="1.0"/>
<rect x="142.07" y="224.80" width="3.80" height="3.80" fill="#1f1fe0"/>
<line x1="158.796" y1="237.4" x2="192.23899999999998" y2="237.4" stroke="#222" stroke-width="1.0"/>
<line x1="158.796" y1="235.8" x2="158.796" y2="239.0" stroke="#222" stroke-width="1.0"/>
<line x1="192.23899999999998" y1="235.8" x2="192.23899999999998" y2="239.0" stroke="#222" stroke-width="1.0"/>
<circle cx="175.52" cy="237.40" r="1.9" fill="#111"/>
<line x1="158.48049999999998" y1="243.8" x2="189.71499999999997" y2="243.8" stroke="#1f1fe0" stroke-width="1.0"/>
<line x1="158.48049999999998" y1="242.20000000000002" x2="158.48049999999998" y2="245.4" stroke="#1f1fe0" stroke-width="1.0"/>
<line x1="189.71499999999997" y1="242.20000000000002" x2="189.71499999999997" y2="245.4" stroke="#1f1fe0" stroke-width="1.0"/>
<rect x="172.36" y="241.90" width="3.80" height="3.80" fill="#1f1fe0"/>
<line x1="151.855" y1="254.0" x2="160.37349999999998" y2="254.0" stroke="#222" stroke-width="1.0"/>
<line x1="151.855" y1="252.4" x2="151.855" y2="255.6" stroke="#222" stroke-width="1.0"/>
<line x1="160.37349999999998" y1="252.4" x2="160.37349999999998" y2="255.6" stroke="#222" stroke-width="1.0"/>
<circle cx="155.64" cy="254.00" r="1.9" fill="#111"/>
<line x1="149.331" y1="260.6" x2="156.903" y2="260.6" stroke="#1f1fe0" stroke-width="1.0"/>
<line x1="149.331" y1="259.0" x2="149.331" y2="262.20000000000005" stroke="#1f1fe0" stroke-width="1.0"/>
<line x1="156.903" y1="259.0" x2="156.903" y2="262.20000000000005" stroke="#1f1fe0" stroke-width="1.0"/>
<rect x="151.53" y="258.70" width="3.80" height="3.80" fill="#1f1fe0"/>
<text x="0" y="0" font-size="6.6" font-weight="bold" text-anchor="middle" fill="#222" color="#222" transform="translate(148.70 287.40) scale(1.0 1.15)" style="">β ± 95% CI</text>
<text x="0" y="0" font-size="6.9" font-weight="normal" text-anchor="start" fill="#222" color="#222" transform="translate(15.30 284.00) scale(1.0 1.15)" style="">Adjusted for</text>
<circle cx="16.90" cy="291.80" r="1.5" fill="#111"/>
<text x="0" y="0" font-size="6.9" font-weight="normal" text-anchor="start" fill="#222" color="#222" transform="translate(26.20 294.20) scale(1.0 1.15)" style="">age + sex</text>
<rect x="15.40" y="299.80" width="2.90" height="2.90" fill="#1f1fe0"/>
<text x="0" y="0" font-size="6.9" font-weight="normal" text-anchor="start" fill="#222" color="#222" transform="translate(26.20 303.60) scale(1.0 1.15)" style="">age + sex + current smoking</text>
<text x="0" y="0" font-size="10.0" font-weight="bold" text-anchor="start" fill="#1a1a1a" color="#1a1a1a" transform="translate(265.30 175.20)" style="stroke-width:0.35px">D</text>
<rect x="270.4" y="245.0" width="59.8" height="21.2" fill="#fff" stroke="#444" stroke-width="1"/>
<rect x="336.8" y="201.8" width="112.3" height="16.7" fill="#fff" stroke="#444" stroke-width="1"/>
<rect x="451.2" y="245.0" width="60.0" height="21.5" fill="#fff" stroke="#444" stroke-width="1"/>
<text x="0" y="0" font-size="8" font-weight="bold" text-anchor="middle" fill="#111" color="#111" transform="translate(300.40 258.80) scale(1.0 1.15)" style="">Smoking</text>
<text x="0" y="0" font-size="8.0" font-weight="bold" text-anchor="middle" fill="#111" color="#111" transform="translate(392.90 213.20) scale(1.0 1.15)" style=""><tspan font-style="italic">GPR15</tspan> mRNA expression</text>
<text x="0" y="0" font-size="8" font-weight="bold" text-anchor="middle" fill="#111" color="#111" transform="translate(481.00 258.40) scale(1.0 1.15)" style="">MI</text>
<line x1="300.5" y1="244.8" x2="333.82117451781176" y2="213.2622122873669" stroke="#80b3e4" stroke-width="0.85"/>
<polygon points="336.00,211.20 333.64,217.43 329.65,213.22" fill="#80b3e4"/>
<line x1="449.8" y1="211.5" x2="478.84576096724265" y2="242.41365556320685" stroke="#80b3e4" stroke-width="0.85"/>
<polygon points="480.90,244.60 474.68,242.21 478.90,238.24" fill="#80b3e4"/>
<line x1="330.7" y1="256.2" x2="447.5" y2="256.2" stroke="#80b3e4" stroke-width="0.85"/>
<polygon points="450.50,256.20 444.50,259.10 444.50,253.30" fill="#80b3e4"/>
<text x="0" y="0" font-size="8" font-weight="bold" text-anchor="middle" fill="#1f77cc" color="#1f77cc" transform="translate(309.60 225.50) scale(1.0 1.15)" style="">1.31***</text>
<text x="0" y="0" font-size="8" font-weight="bold" text-anchor="middle" fill="#1f77cc" color="#1f77cc" transform="translate(477.20 224.30) scale(1.0 1.15)" style="">0.64***</text>
<text x="0" y="0" font-size="8" font-weight="bold" text-anchor="middle" fill="#1f77cc" color="#1f77cc" transform="translate(396.90 251.30) scale(1.0 1.15)" style="">0.43***(0.32)</text>
<rect x="43.3" y="362.7" width="197.5" height="140.2" fill="#fff" stroke="#d2d2d2" stroke-width="0.9"/>
<line x1="43.3" y1="496.0" x2="240.8" y2="496.0" stroke="#f6f6f6" stroke-width="0.6"/>
<line x1="43.3" y1="459.6" x2="240.8" y2="459.6" stroke="#f6f6f6" stroke-width="0.6"/>
<line x1="43.3" y1="423.20000000000005" x2="240.8" y2="423.20000000000005" stroke="#f6f6f6" stroke-width="0.6"/>
<line x1="43.3" y1="386.8" x2="240.8" y2="386.8" stroke="#f6f6f6" stroke-width="0.6"/>
<line x1="43.3" y1="477.8" x2="240.8" y2="477.8" stroke="#efefef" stroke-width="0.8"/>
<line x1="43.3" y1="441.40000000000003" x2="240.8" y2="441.40000000000003" stroke="#efefef" stroke-width="0.8"/>
<line x1="43.3" y1="405.0" x2="240.8" y2="405.0" stroke="#efefef" stroke-width="0.8"/>
<line x1="43.3" y1="368.6" x2="240.8" y2="368.6" stroke="#efefef" stroke-width="0.8"/>
<line x1="74.475" y1="362.7" x2="74.475" y2="502.9" stroke="#f6f6f6" stroke-width="0.6"/>
<line x1="119.225" y1="362.7" x2="119.225" y2="502.9" stroke="#f6f6f6" stroke-width="0.6"/>
<line x1="163.975" y1="362.7" x2="163.975" y2="502.9" stroke="#f6f6f6" stroke-width="0.6"/>
<line x1="208.725" y1="362.7" x2="208.725" y2="502.9" stroke="#f6f6f6" stroke-width="0.6"/>
<line x1="52.1" y1="362.7" x2="52.1" y2="502.9" stroke="#efefef" stroke-width="0.8"/>
<line x1="96.85" y1="362.7" x2="96.85" y2="502.9" stroke="#efefef" stroke-width="0.8"/>
<line x1="141.6" y1="362.7" x2="141.6" y2="502.9" stroke="#efefef" stroke-width="0.8"/>
<line x1="186.35" y1="362.7" x2="186.35" y2="502.9" stroke="#efefef" stroke-width="0.8"/>
<line x1="231.1" y1="362.7" x2="231.1" y2="502.9" stroke="#efefef" stroke-width="0.8"/>
<line x1="41.8" y1="477.8" x2="43.3" y2="477.8" stroke="#777" stroke-width="0.8"/>
<text x="0" y="0" font-size="5.8" font-weight="bold" text-anchor="end" fill="#111" color="#111" transform="translate(36.60 479.40)" style="">0.4</text>
<line x1="41.8" y1="441.40000000000003" x2="43.3" y2="441.40000000000003" stroke="#777" stroke-width="0.8"/>
<text x="0" y="0" font-size="5.8" font-weight="bold" text-anchor="end" fill="#111" color="#111" transform="translate(36.60 443.00)" style="">0.6</text>
<line x1="41.8" y1="405.0" x2="43.3" y2="405.0" stroke="#777" stroke-width="0.8"/>
<text x="0" y="0" font-size="5.8" font-weight="bold" text-anchor="end" fill="#111" color="#111" transform="translate(36.60 406.60)" style="">0.8</text>
<line x1="41.8" y1="368.6" x2="43.3" y2="368.6" stroke="#777" stroke-width="0.8"/>
<text x="0" y="0" font-size="5.8" font-weight="bold" text-anchor="end" fill="#111" color="#111" transform="translate(36.60 370.20)" style="">1.0</text>
<line x1="52.1" y1="502.9" x2="52.1" y2="504.4" stroke="#777" stroke-width="0.8"/>
<text x="0" y="0" font-size="6.0" font-weight="bold" text-anchor="middle" fill="#222" color="#222" transform="translate(52.10 511.00)" style="">0</text>
<line x1="96.85" y1="502.9" x2="96.85" y2="504.4" stroke="#777" stroke-width="0.8"/>
<text x="0" y="0" font-size="6.0" font-weight="bold" text-anchor="middle" fill="#222" color="#222" transform="translate(96.85 511.00)" style="">2.5</text>
<line x1="141.6" y1="502.9" x2="141.6" y2="504.4" stroke="#777" stroke-width="0.8"/>
<text x="0" y="0" font-size="6.0" font-weight="bold" text-anchor="middle" fill="#222" color="#222" transform="translate(141.60 511.00)" style="">5</text>
<line x1="186.35" y1="502.9" x2="186.35" y2="504.4" stroke="#777" stroke-width="0.8"/>
<text x="0" y="0" font-size="6.0" font-weight="bold" text-anchor="middle" fill="#222" color="#222" transform="translate(186.35 511.00)" style="">7.5</text>
<line x1="231.1" y1="502.9" x2="231.1" y2="504.4" stroke="#777" stroke-width="0.8"/>
<text x="0" y="0" font-size="6.0" font-weight="bold" text-anchor="middle" fill="#222" color="#222" transform="translate(231.10 511.00)" style="">10</text>
<text x="0" y="0" font-size="10.2" font-weight="bold" text-anchor="middle" fill="#111" color="#111" transform="translate(128.30 356.80)" style="stroke-width:0.3px">All</text>
<text x="0" y="0" font-size="7.0" font-weight="bold" text-anchor="middle" fill="#111" color="#111" transform="translate(19.10 430.00) rotate(-90) scale(1.0 1.15)" style="" dominant-baseline="central">MI-free survival probability</text>
<text x="0" y="0" font-size="10" font-weight="bold" text-anchor="start" fill="#1a1a1a" color="#1a1a1a" transform="translate(13.20 348.40)" style="stroke-width:0.35px">E</text>
<path d="M52.10,368.50 L53.30,368.50 L53.30,370.15 L54.50,370.15 L54.50,371.80 L56.15,371.80 L56.15,373.05 L57.80,373.05 L57.80,374.30 L60.25,374.30 L60.25,375.10 L62.70,375.10 L62.70,375.90 L64.35,375.90 L64.35,377.15 L66.00,377.15 L66.00,378.40 L68.45,378.40 L68.45,378.40 L70.90,378.40 L70.90,378.40 L72.55,378.40 L72.55,379.60 L74.20,379.60 L74.20,380.80 L77.45,380.80 L77.45,382.05 L80.70,382.05 L80.70,383.30 L84.00,383.30 L84.00,384.90 L87.30,384.90 L87.30,386.50 L89.75,386.50 L89.75,387.75 L92.20,387.75 L92.20,389.00 L94.65,389.00 L94.65,390.65 L97.10,390.65 L97.10,392.30 L98.75,392.30 L98.75,393.95 L100.40,393.95 L100.40,395.60 L101.60,395.60 L101.60,398.45 L102.80,398.45 L102.80,401.30 L104.85,401.30 L104.85,402.95 L106.90,402.95 L106.90,404.60 L110.20,404.60 L110.20,406.60 L113.50,406.60 L113.50,408.60 L116.75,408.60 L116.75,409.45 L120.00,409.45 L120.00,410.30 L122.45,410.30 L122.45,413.95 L124.90,413.95 L124.90,417.60 L127.35,417.60 L127.35,418.85 L129.80,418.85 L129.80,420.10 L132.65,420.10 L132.65,422.10 L135.50,422.10 L135.50,424.10 L138.20,424.10 L138.20,425.45 L140.90,425.45 L140.90,426.80 L142.70,426.80 L142.70,429.10 L144.50,429.10 L144.50,431.40 L146.35,431.40 L146.35,432.00 L148.20,432.00 L148.20,432.60 L152.75,432.60 L152.75,433.80 L157.30,433.80 L157.30,435.00 L158.65,435.00 L158.65,435.90 L160.00,435.90 L160.00,436.80 L162.75,436.80 L162.75,437.70 L165.50,437.70 L165.50,438.60 L168.65,438.60 L168.65,439.55 L171.80,439.55 L171.80,440.50 L175.45,440.50 L175.45,440.95 L179.10,440.95 L179.10,441.40 L181.80,441.40 L181.80,441.85 L184.50,441.85 L184.50,442.30 L185.90,442.30 L185.90,443.65 L187.30,443.65 L187.30,445.00 L195.90,445.00 L195.90,445.45 L204.50,445.45 L204.50,445.90 L213.60,445.90 L213.60,446.20 L222.70,446.20 L222.70,446.50" fill="none" stroke="#2b82d6" stroke-width="1.3" stroke-linejoin="miter"/>
<line x1="222.7" y1="445.0" x2="222.7" y2="448.0" stroke="#2b82d6" stroke-width="1.0"/>
<path d="M52.10,368.50 L54.15,368.50 L54.15,370.55 L56.20,370.55 L56.20,372.60 L58.65,372.60 L58.65,373.45 L61.10,373.45 L61.10,374.30 L65.20,374.30 L65.20,375.50 L69.30,375.50 L69.30,376.70 L71.75,376.70 L71.75,378.35 L74.20,378.35 L74.20,380.00 L77.45,380.00 L77.45,381.25 L80.70,381.25 L80.70,382.50 L84.80,382.50 L84.80,384.50 L88.90,384.50 L88.90,386.50 L93.00,386.50 L93.00,388.55 L97.10,388.55 L97.10,390.60 L101.20,390.60 L101.20,392.25 L105.30,392.25 L105.30,393.90 L109.40,393.90 L109.40,395.95 L113.50,395.95 L113.50,398.00 L117.55,398.00 L117.55,400.45 L121.60,400.45 L121.60,402.90 L125.70,402.90 L125.70,405.35 L129.80,405.35 L129.80,407.80 L131.70,407.80 L131.70,409.15 L133.60,409.15 L133.60,410.50 L136.35,410.50 L136.35,411.85 L139.10,411.85 L139.10,413.20 L141.80,413.20 L141.80,414.55 L144.50,414.55 L144.50,415.90 L147.25,415.90 L147.25,417.25 L150.00,417.25 L150.00,418.60 L151.80,418.60 L151.80,419.55 L153.60,419.55 L153.60,420.50 L157.25,420.50 L157.25,421.40 L160.90,421.40 L160.90,422.30 L163.65,422.30 L163.65,423.20 L166.40,423.20 L166.40,424.10 L171.40,424.10 L171.40,424.55 L176.40,424.55 L176.40,425.00 L177.75,425.00 L177.75,426.35 L179.10,426.35 L179.10,427.70 L181.80,427.70 L181.80,429.10 L184.50,429.10 L184.50,430.50 L192.25,430.50 L192.25,431.40 L200.00,431.40 L200.00,432.30 L211.35,432.30 L211.35,432.75 L222.70,432.75 L222.70,433.20" fill="none" stroke="#f2c21b" stroke-width="1.3" stroke-linejoin="miter"/>
<line x1="222.7" y1="431.7" x2="222.7" y2="434.7" stroke="#f2c21b" stroke-width="1.0"/>
<path d="M52.10,368.50 L54.95,368.50 L54.95,368.50 L57.80,368.50 L57.80,368.50 L61.10,368.50 L61.10,369.35 L64.40,369.35 L64.40,370.20 L68.45,370.20 L68.45,371.40 L72.50,371.40 L72.50,372.60 L75.00,372.60 L75.00,374.25 L77.50,374.25 L77.50,375.90 L79.95,375.90 L79.95,376.70 L82.40,376.70 L82.40,377.50 L85.65,377.50 L85.65,379.15 L88.90,379.15 L88.90,380.80 L91.35,380.80 L91.35,382.45 L93.80,382.45 L93.80,384.10 L97.90,384.10 L97.90,385.30 L102.00,385.30 L102.00,386.50 L106.10,386.50 L106.10,388.55 L110.20,388.55 L110.20,390.60 L114.30,390.60 L114.30,391.85 L118.40,391.85 L118.40,393.10 L121.65,393.10 L121.65,395.15 L124.90,395.15 L124.90,397.20 L128.20,397.20 L128.20,398.85 L131.50,398.85 L131.50,400.50 L134.40,400.50 L134.40,402.75 L137.30,402.75 L137.30,405.00 L140.00,405.00 L140.00,406.80 L142.70,406.80 L142.70,408.60 L145.45,408.60 L145.45,410.45 L148.20,410.45 L148.20,412.30 L150.90,412.30 L150.90,413.20 L153.60,413.20 L153.60,414.10 L156.35,414.10 L156.35,416.35 L159.10,416.35 L159.10,418.60 L161.80,418.60 L161.80,419.55 L164.50,419.55 L164.50,420.50 L166.80,420.50 L166.80,421.85 L169.10,421.85 L169.10,423.20 L171.35,423.20 L171.35,423.90 L173.60,423.90 L173.60,424.60 L177.25,424.60 L177.25,425.55 L180.90,425.55 L180.90,426.50 L183.65,426.50 L183.65,427.55 L186.40,427.55 L186.40,428.60 L204.55,428.60 L204.55,428.60 L222.70,428.60 L222.70,428.60" fill="none" stroke="#8d8d8d" stroke-width="1.3" stroke-linejoin="miter"/>
<line x1="222.7" y1="427.1" x2="222.7" y2="430.1" stroke="#8d8d8d" stroke-width="1.0"/>
<path d="M52.10,368.50 L53.75,368.50 L53.75,368.95 L55.40,368.95 L55.40,369.40 L57.45,369.40 L57.45,371.00 L59.50,371.00 L59.50,372.60 L61.95,372.60 L61.95,373.45 L64.40,373.45 L64.40,374.30 L67.65,374.30 L67.65,375.50 L70.90,375.50 L70.90,376.70 L73.35,376.70 L73.35,378.35 L75.80,378.35 L75.80,380.00 L78.25,380.00 L78.25,381.25 L80.70,381.25 L80.70,382.50 L84.00,382.50 L84.00,383.70 L87.30,383.70 L87.30,384.90 L91.40,384.90 L91.40,385.30 L95.50,385.30 L95.50,385.70 L98.75,385.70 L98.75,386.95 L102.00,386.95 L102.00,388.20 L106.10,388.20 L106.10,389.85 L110.20,389.85 L110.20,391.50 L114.30,391.50 L114.30,392.70 L118.40,392.70 L118.40,393.90 L122.50,393.90 L122.50,396.35 L126.60,396.35 L126.60,398.80 L129.85,398.80 L129.85,400.85 L133.10,400.85 L133.10,402.90 L135.65,402.90 L135.65,405.30 L138.20,405.30 L138.20,407.70 L140.90,407.70 L140.90,408.15 L143.60,408.15 L143.60,408.60 L147.70,408.60 L147.70,409.55 L151.80,409.55 L151.80,410.50 L154.55,410.50 L154.55,411.85 L157.30,411.85 L157.30,413.20 L158.65,413.20 L158.65,414.55 L160.00,414.55 L160.00,415.90 L162.25,415.90 L162.25,416.80 L164.50,416.80 L164.50,417.70 L168.15,417.70 L168.15,418.15 L171.80,418.15 L171.80,418.60 L178.15,418.60 L178.15,419.55 L184.50,419.55 L184.50,420.50 L190.90,420.50 L190.90,420.95 L197.30,420.95 L197.30,421.40 L201.85,421.40 L201.85,422.30 L206.40,422.30 L206.40,423.20 L212.75,423.20 L212.75,423.65 L219.10,423.65 L219.10,424.10 L220.90,424.10 L220.90,424.30 L222.70,424.30 L222.70,424.50" fill="none" stroke="#de5a5a" stroke-width="1.3" stroke-linejoin="miter"/>
<line x1="222.7" y1="423.0" x2="222.7" y2="426.0" stroke="#de5a5a" stroke-width="1.0"/>
<text x="0" y="0" font-size="6.8" font-weight="bold" text-anchor="start" fill="#111" color="#111" transform="translate(59.80 489.70) scale(1.0 1.15)" style="">p&lt;0.0001</text>
<text x="0" y="0" font-size="6.7" font-weight="bold" text-anchor="middle" fill="#111" color="#111" transform="translate(137.90 518.50) scale(1.0 1.15)" style="">Time [years]</text>
<rect x="295.2" y="362.4" width="197.5" height="140.70000000000005" fill="#fff" stroke="#d2d2d2" stroke-width="0.9"/>
<line x1="295.2" y1="496.0" x2="492.7" y2="496.0" stroke="#f6f6f6" stroke-width="0.6"/>
<line x1="295.2" y1="459.6" x2="492.7" y2="459.6" stroke="#f6f6f6" stroke-width="0.6"/>
<line x1="295.2" y1="423.20000000000005" x2="492.7" y2="423.20000000000005" stroke="#f6f6f6" stroke-width="0.6"/>
<line x1="295.2" y1="386.8" x2="492.7" y2="386.8" stroke="#f6f6f6" stroke-width="0.6"/>
<line x1="295.2" y1="477.8" x2="492.7" y2="477.8" stroke="#efefef" stroke-width="0.8"/>
<line x1="295.2" y1="441.40000000000003" x2="492.7" y2="441.40000000000003" stroke="#efefef" stroke-width="0.8"/>
<line x1="295.2" y1="405.0" x2="492.7" y2="405.0" stroke="#efefef" stroke-width="0.8"/>
<line x1="295.2" y1="368.6" x2="492.7" y2="368.6" stroke="#efefef" stroke-width="0.8"/>
<line x1="326.125" y1="362.4" x2="326.125" y2="503.1" stroke="#f6f6f6" stroke-width="0.6"/>
<line x1="370.775" y1="362.4" x2="370.775" y2="503.1" stroke="#f6f6f6" stroke-width="0.6"/>
<line x1="415.425" y1="362.4" x2="415.425" y2="503.1" stroke="#f6f6f6" stroke-width="0.6"/>
<line x1="460.07500000000005" y1="362.4" x2="460.07500000000005" y2="503.1" stroke="#f6f6f6" stroke-width="0.6"/>
<line x1="303.8" y1="362.4" x2="303.8" y2="503.1" stroke="#efefef" stroke-width="0.8"/>
<line x1="348.45" y1="362.4" x2="348.45" y2="503.1" stroke="#efefef" stroke-width="0.8"/>
<line x1="393.1" y1="362.4" x2="393.1" y2="503.1" stroke="#efefef" stroke-width="0.8"/>
<line x1="437.75" y1="362.4" x2="437.75" y2="503.1" stroke="#efefef" stroke-width="0.8"/>
<line x1="482.4" y1="362.4" x2="482.4" y2="503.1" stroke="#efefef" stroke-width="0.8"/>
<line x1="293.7" y1="477.8" x2="295.2" y2="477.8" stroke="#777" stroke-width="0.8"/>
<text x="0" y="0" font-size="5.8" font-weight="bold" text-anchor="end" fill="#111" color="#111" transform="translate(288.80 479.40)" style="">0.4</text>
<line x1="293.7" y1="441.40000000000003" x2="295.2" y2="441.40000000000003" stroke="#777" stroke-width="0.8"/>
<text x="0" y="0" font-size="5.8" font-weight="bold" text-anchor="end" fill="#111" color="#111" transform="translate(288.80 443.00)" style="">0.6</text>
<line x1="293.7" y1="405.0" x2="295.2" y2="405.0" stroke="#777" stroke-width="0.8"/>
<text x="0" y="0" font-size="5.8" font-weight="bold" text-anchor="end" fill="#111" color="#111" transform="translate(288.80 406.60)" style="">0.8</text>
<line x1="293.7" y1="368.6" x2="295.2" y2="368.6" stroke="#777" stroke-width="0.8"/>
<text x="0" y="0" font-size="5.8" font-weight="bold" text-anchor="end" fill="#111" color="#111" transform="translate(288.80 370.20)" style="">1.0</text>
<line x1="303.8" y1="503.1" x2="303.8" y2="504.6" stroke="#777" stroke-width="0.8"/>
<text x="0" y="0" font-size="6.0" font-weight="bold" text-anchor="middle" fill="#222" color="#222" transform="translate(303.80 511.00)" style="">0</text>
<line x1="348.45" y1="503.1" x2="348.45" y2="504.6" stroke="#777" stroke-width="0.8"/>
<text x="0" y="0" font-size="6.0" font-weight="bold" text-anchor="middle" fill="#222" color="#222" transform="translate(348.45 511.00)" style="">2.5</text>
<line x1="393.1" y1="503.1" x2="393.1" y2="504.6" stroke="#777" stroke-width="0.8"/>
<text x="0" y="0" font-size="6.0" font-weight="bold" text-anchor="middle" fill="#222" color="#222" transform="translate(393.10 511.00)" style="">5</text>
<line x1="437.75" y1="503.1" x2="437.75" y2="504.6" stroke="#777" stroke-width="0.8"/>
<text x="0" y="0" font-size="6.0" font-weight="bold" text-anchor="middle" fill="#222" color="#222" transform="translate(437.75 511.00)" style="">7.5</text>
<line x1="482.4" y1="503.1" x2="482.4" y2="504.6" stroke="#777" stroke-width="0.8"/>
<text x="0" y="0" font-size="6.0" font-weight="bold" text-anchor="middle" fill="#222" color="#222" transform="translate(482.40 511.00)" style="">10</text>
<text x="0" y="0" font-size="10.2" font-weight="bold" text-anchor="middle" fill="#111" color="#111" transform="translate(395.50 356.80)" style="stroke-width:0.3px">Smokers</text>
<text x="0" y="0" font-size="7.0" font-weight="bold" text-anchor="middle" fill="#111" color="#111" transform="translate(271.60 430.00) rotate(-90) scale(1.0 1.15)" style="" dominant-baseline="central">MI-free survival probability</text>
<text x="0" y="0" font-size="10" font-weight="bold" text-anchor="start" fill="#1a1a1a" color="#1a1a1a" transform="translate(265.50 348.40)" style="stroke-width:0.35px">F</text>
<path d="M304.40,368.50 L307.10,368.50 L307.10,374.70 L311.60,374.70 L311.60,377.50 L314.40,377.50 L314.40,380.20 L325.30,380.20 L325.30,382.00 L327.10,382.00 L327.10,385.60 L331.60,385.60 L331.60,390.20 L336.20,390.20 L336.20,393.80 L338.90,393.80 L338.90,397.50 L342.50,397.50 L342.50,402.90 L348.00,402.90 L348.00,405.60 L352.50,405.60 L352.50,412.90 L355.30,412.90 L355.30,418.40 L358.30,418.40 L358.30,423.20 L361.60,423.20 L361.60,429.20 L365.90,429.20 L365.90,432.50 L374.10,432.50 L374.10,437.90 L376.30,437.90 L376.30,442.30 L380.70,442.30 L380.70,443.90 L383.40,443.90 L383.40,448.30 L387.20,448.30 L387.20,450.00 L388.30,450.00 L388.30,455.40 L393.80,455.40 L393.80,458.00 L399.00,458.00 L399.00,464.80 L410.90,464.80 L410.90,468.20 L417.30,468.20 L417.30,471.80 L420.00,471.80 L420.00,474.50 L426.40,474.50 L426.40,478.20 L430.00,478.20 L430.00,480.90 L436.40,480.90 L436.40,484.50 L440.00,484.50 L440.00,487.60 L475.10,487.60 L475.10,487.60" fill="none" stroke="#2b82d6" stroke-width="1.3" stroke-linejoin="miter"/>
<line x1="475.1" y1="486.1" x2="475.1" y2="489.1" stroke="#2b82d6" stroke-width="1.0"/>
<path d="M304.40,368.50 L308.00,368.50 L308.00,374.70 L311.60,374.70 L311.60,379.30 L315.30,379.30 L315.30,385.60 L320.70,385.60 L320.70,386.50 L323.50,386.50 L323.50,392.90 L327.10,392.90 L327.10,397.50 L331.60,397.50 L331.60,400.20 L336.20,400.20 L336.20,402.90 L342.50,402.90 L342.50,403.80 L345.30,403.80 L345.30,411.10 L350.70,411.10 L350.70,416.50 L355.30,416.50 L355.30,420.20 L359.90,420.20 L359.90,425.40 L363.70,425.40 L363.70,429.70 L367.00,429.70 L367.00,433.00 L369.70,433.00 L369.70,434.70 L371.90,434.70 L371.90,438.50 L373.00,438.50 L373.00,444.50 L375.20,444.50 L375.20,447.80 L376.80,447.80 L376.80,451.00 L381.20,451.00 L381.20,452.70 L385.00,452.70 L385.00,455.90 L387.80,455.90 L387.80,458.10 L392.70,458.10 L392.70,461.40 L395.40,461.40 L395.40,468.60 L435.50,468.60 L435.50,468.70 L436.40,468.70 L436.40,472.70 L438.20,472.70 L438.20,476.40 L440.00,476.40 L440.00,479.10 L469.10,479.10 L469.10,482.70 L475.10,482.70 L475.10,482.70" fill="none" stroke="#f2c21b" stroke-width="1.3" stroke-linejoin="miter"/>
<line x1="475.1" y1="481.2" x2="475.1" y2="484.2" stroke="#f2c21b" stroke-width="1.0"/>
<path d="M304.40,368.50 L316.20,368.50 L316.20,373.80 L321.60,373.80 L321.60,376.50 L327.10,376.50 L327.10,378.40 L331.60,378.40 L331.60,382.00 L334.40,382.00 L334.40,385.60 L336.20,385.60 L336.20,389.30 L338.90,389.30 L338.90,393.80 L343.50,393.80 L343.50,396.50 L359.80,396.50 L359.80,398.40 L363.50,398.40 L363.50,402.90 L372.50,402.90 L372.50,404.70 L374.40,404.70 L374.40,410.20 L383.50,410.20 L383.50,411.10 L388.90,411.10 L388.90,415.60 L391.60,415.60 L391.60,418.40 L395.40,418.40 L395.40,420.50 L400.90,420.50 L400.90,428.10 L409.10,428.10 L409.10,431.80 L410.90,431.80 L410.90,435.50 L420.90,435.50 L420.90,439.10 L430.90,439.10 L430.90,441.80 L437.30,441.80 L437.30,445.10 L475.10,445.10 L475.10,445.10" fill="none" stroke="#8d8d8d" stroke-width="1.3" stroke-linejoin="miter"/>
<line x1="475.1" y1="443.6" x2="475.1" y2="446.6" stroke="#8d8d8d" stroke-width="1.0"/>
<path d="M304.40,368.50 L309.80,368.50 L309.80,371.10 L311.60,371.10 L311.60,374.70 L325.30,374.70 L325.30,375.60 L326.20,375.60 L326.20,379.30 L328.00,379.30 L328.00,384.70 L331.60,384.70 L331.60,386.50 L335.30,386.50 L335.30,389.30 L341.60,389.30 L341.60,393.80 L352.50,393.80 L352.50,397.50 L359.80,397.50 L359.80,400.20 L363.50,400.20 L363.50,407.50 L370.70,407.50 L370.70,410.20 L376.20,410.20 L376.20,414.70 L378.50,414.70 L378.50,423.20 L388.80,423.20 L388.80,430.30 L404.50,430.30 L404.50,433.60 L407.30,433.60 L407.30,437.30 L410.90,437.30 L410.90,440.90 L415.50,440.90 L415.50,443.60 L427.30,443.60 L427.30,447.30 L433.60,447.30 L433.60,450.90 L436.40,450.90 L436.40,454.50 L457.30,454.50 L457.30,458.20 L475.10,458.20 L475.10,458.20" fill="none" stroke="#de5a5a" stroke-width="1.3" stroke-linejoin="miter"/>
<line x1="475.1" y1="456.7" x2="475.1" y2="459.7" stroke="#de5a5a" stroke-width="1.0"/>
<text x="0" y="0" font-size="6.8" font-weight="bold" text-anchor="start" fill="#111" color="#111" transform="translate(311.70 489.70) scale(1.0 1.15)" style="">p&lt;0.0001</text>
<text x="0" y="0" font-size="6.7" font-weight="bold" text-anchor="middle" fill="#111" color="#111" transform="translate(389.60 518.50) scale(1.0 1.15)" style="">Time [years]</text>
<text x="0" y="0" font-size="6.9" font-weight="bold" text-anchor="start" fill="#111" color="#111" transform="translate(109.80 540.70) scale(1.0 1.15)" style="">CpG methylation:</text>
<line x1="177.5" y1="538.2" x2="191.5" y2="538.2" stroke="#2b82d6" stroke-width="1.7"/>
<line x1="184.5" y1="536.6" x2="184.5" y2="539.8" stroke="#2b82d6" stroke-width="1.0"/>
<text x="0" y="0" font-size="6.85" font-weight="bold" text-anchor="start" fill="#111" color="#111" transform="translate(193.80 540.60) scale(1.0 1.15)" style="">Quartile Q1</text>
<line x1="242.3" y1="538.2" x2="256.3" y2="538.2" stroke="#f2c21b" stroke-width="1.7"/>
<line x1="249.3" y1="536.6" x2="249.3" y2="539.8" stroke="#f2c21b" stroke-width="1.0"/>
<text x="0" y="0" font-size="6.85" font-weight="bold" text-anchor="start" fill="#111" color="#111" transform="translate(258.60 540.60) scale(1.0 1.15)" style="">Quartile Q2</text>
<line x1="308.9" y1="538.2" x2="322.9" y2="538.2" stroke="#8d8d8d" stroke-width="1.7"/>
<line x1="315.9" y1="536.6" x2="315.9" y2="539.8" stroke="#8d8d8d" stroke-width="1.0"/>
<text x="0" y="0" font-size="6.85" font-weight="bold" text-anchor="start" fill="#111" color="#111" transform="translate(325.20 540.60) scale(1.0 1.15)" style="">Quartile Q3</text>
<line x1="376.3" y1="538.2" x2="390.3" y2="538.2" stroke="#de5a5a" stroke-width="1.7"/>
<line x1="383.3" y1="536.6" x2="383.3" y2="539.8" stroke="#de5a5a" stroke-width="1.0"/>
<text x="0" y="0" font-size="6.85" font-weight="bold" text-anchor="start" fill="#111" color="#111" transform="translate(392.60 540.60) scale(1.0 1.15)" style="">Quartile Q4</text>
</svg></body></html>
